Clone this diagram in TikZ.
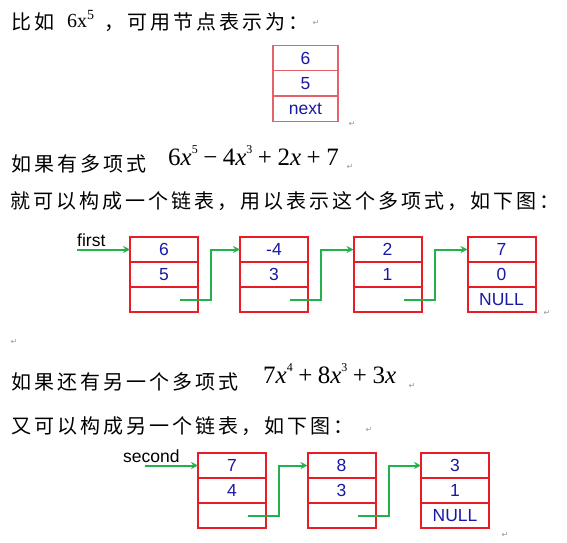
\documentclass[tikz,border=0pt]{standalone}
\usepackage{xcolor}
\usepackage{fontspec}
\setmainfont{Liberation Serif}
\setsansfont{Liberation Sans}
\newfontfamily\cjk[LetterSpace=15]{Noto Sans CJK SC}
\newfontfamily\symfont{DejaVu Sans}
\usepackage{tikz}
\usetikzlibrary{arrows.meta, positioning}

\definecolor{cellred}{RGB}{232,28,36}
\definecolor{pinkred}{RGB}{228,98,108}
\definecolor{linkgreen}{RGB}{34,177,76}
\definecolor{valblue}{RGB}{24,24,165}
\definecolor{markgray}{RGB}{150,150,150}

\newcommand{\xpow}[1]{\textit{x}\raisebox{0.45em}{\fontsize{12}{12}\selectfont #1}}
\newcommand{\opr}[1]{\hspace{0.22em}#1\hspace{0.22em}}

\begin{document}
\begin{tikzpicture}[x=1pt, y=-1pt]
\tikzstyle{cell} = [rectangle, draw=cellred, line width=2pt, minimum width=68pt, minimum height=25pt, inner sep=0pt, outer sep=0pt, text=valblue, font=\sffamily\fontsize{17.5}{17.5}\selectfont]
\tikzstyle{demo} = [cell, draw=pinkred, line width=1.1pt, minimum width=65pt, minimum height=25.3pt]
\tikzstyle{link} = [draw=linkgreen, line width=2pt, -{Stealth[length=7pt,width=7pt]}]
\tikzstyle{zh} = [anchor=west, inner sep=0pt, font=\cjk\fontsize{20}{20}\selectfont]
\tikzstyle{formula} = [anchor=base west, inner sep=0pt, font=\fontsize{25}{25}\selectfont]
\tikzstyle{tag} = [anchor=base west, inner sep=0pt, font=\sffamily\fontsize{17.5}{17.5}\selectfont]
\tikzstyle{pmark} = [inner sep=0pt, text=markgray, font=\symfont\fontsize{8}{8}\selectfont]

\useasboundingbox (0,0) rectangle (567,542);

% one node on its own
\node[zh] (l1a) at (11,22) {比如};
\node[anchor=base west, inner sep=0pt, font=\fontsize{20}{20}\selectfont] (l1b) at (67,27) {6x\textsuperscript{5}};
\node[zh] (l1c) at (104,22) {，可用节点表示为：};
\node[pmark] (m1) at (316,23) {↵};

\node[demo] (d1) at (305.5,58) {6};
\node[demo, below=0pt of d1] (d2) {5};
\node[demo, below=0pt of d2] (d3) {next};
\node[pmark] (m2) at (352,124) {↵};

% first polynomial
\node[zh] (l2) at (11,164) {如果有多项式};
\node[formula] (f1) at (168,165) {6\xpow{5}\opr{−}4\xpow{3}\opr{+}2\textit{x}\opr{+}7};
\node[pmark] (m3) at (350,167) {↵};
\node[zh] (l3) at (10,201) {就可以构成一个链表，用以表示这个多项式，如下图：};

\foreach \n/\x/\c/\e/\p in {1/164/6/5/{}, 2/274/-4/3/{}, 3/387.5/2/1/{}, 4/501.5/7/0/NULL} {
  \node[cell] (p\n-a) at (\x,249.5) {\c};
  \node[cell, below=0pt of p\n-a] (p\n-b) {\e};
  \node[cell, below=0pt of p\n-b] (p\n-c) {\p};
}
\node[tag] (first) at (77,246.5) {first};
\draw[link] (first.west |- p1-a.west) -- (p1-a.west);
\foreach \n/\m in {1/2, 2/3, 3/4} {
  \coordinate (p\n-out) at ([xshift=16pt]p\n-c.center);
  \draw[link] (p\n-out) -- ([xshift=13pt]p\n-c.east) |- (p\m-a.west);
}
\node[pmark] (m4) at (547,313) {↵};
\node[pmark] (m5) at (14,342) {↵};

% second polynomial
\node[zh] (l4) at (11,382) {如果还有另一个多项式};
\node[formula] (f2) at (263,383) {7\xpow{4}\opr{+}8\xpow{3}\opr{+}3\textit{x}};
\node[pmark] (m6) at (412,386) {↵};
\node[zh] (l5) at (11,426) {又可以构成另一个链表，如下图：};
\node[pmark] (m7) at (369,430) {↵};

\foreach \n/\x/\c/\e/\p in {1/232/7/4/{}, 2/341.5/8/3/{}, 3/455/3/1/NULL} {
  \node[cell] (q\n-a) at (\x,465.5) {\c};
  \node[cell, below=0pt of q\n-a] (q\n-b) {\e};
  \node[cell, below=0pt of q\n-b] (q\n-c) {\p};
}
\node[tag] (second) at (123,462) {second};
\coordinate (second-in) at (145,0);
\draw[link] (second-in |- q1-a.west) -- (q1-a.west);
\foreach \n/\m in {1/2, 2/3} {
  \coordinate (q\n-out) at ([xshift=16pt]q\n-c.center);
  \draw[link] (q\n-out) -- ([xshift=13pt]q\n-c.east) |- (q\m-a.west);
}
\node[pmark] (m8) at (505,535) {↵};
\end{tikzpicture}
\end{document}
